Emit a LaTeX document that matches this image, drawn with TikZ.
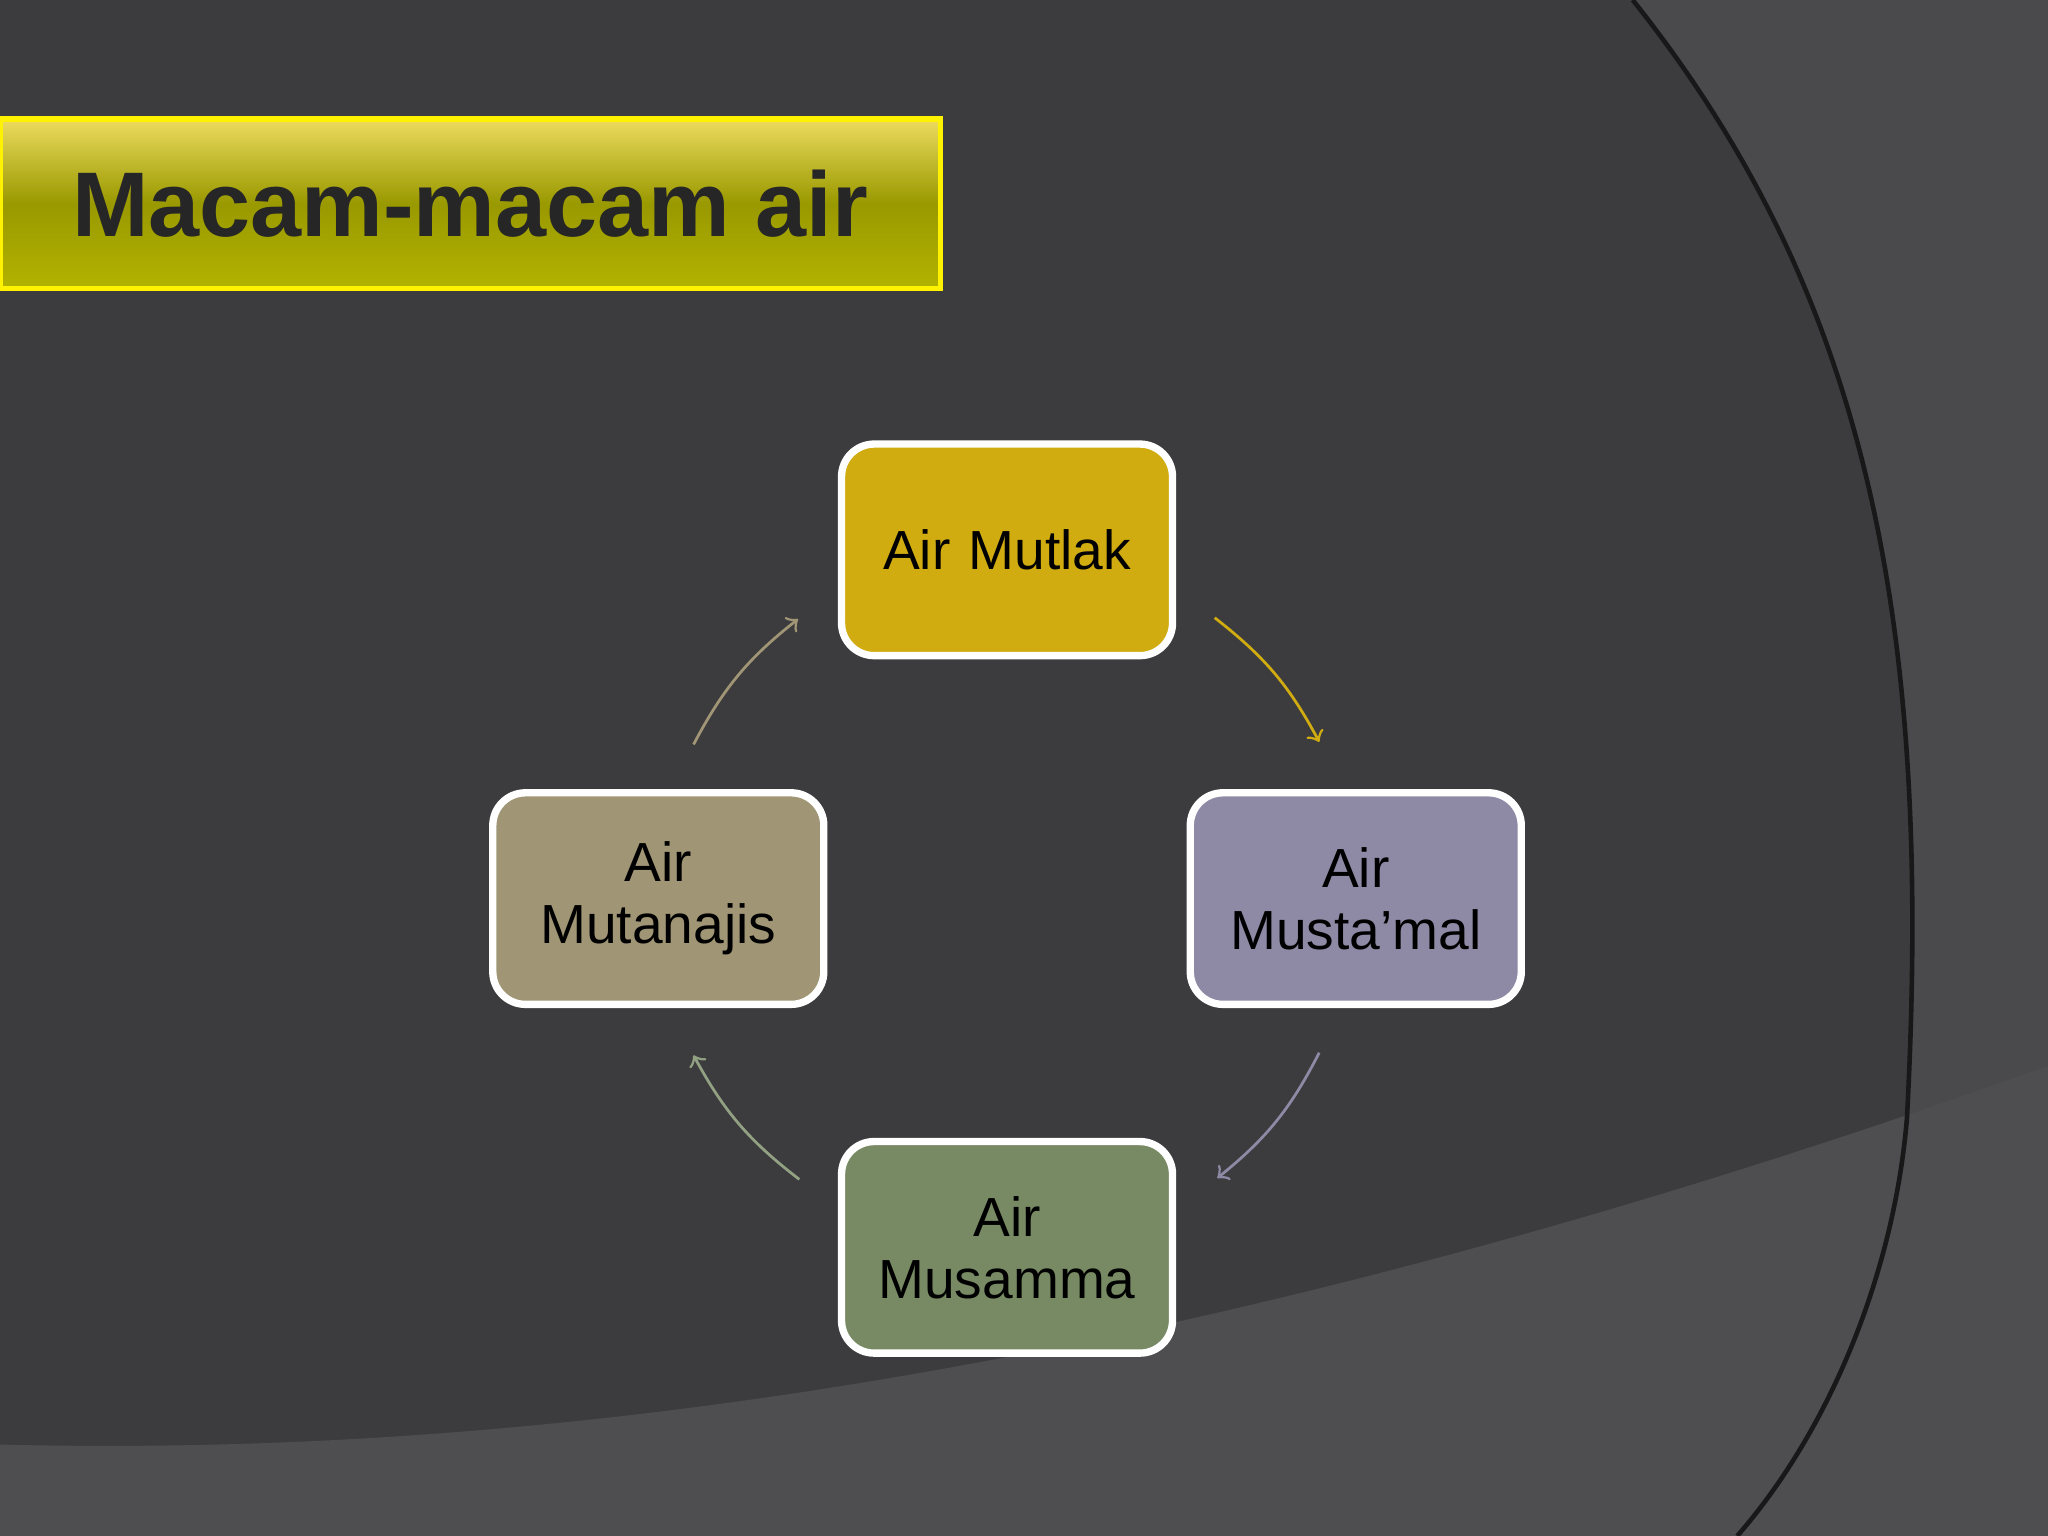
\documentclass[tikz,border=0pt]{standalone}
\usepackage{fontspec}
\setmainfont{Liberation Sans}
\usetikzlibrary{positioning}
\definecolor{bgdark}{HTML}{3C3C3E}
\definecolor{bglight}{HTML}{4E4E51}
\definecolor{mutlak}{HTML}{D1AC10}
\definecolor{mustamal}{HTML}{8E89A4}
\definecolor{musamma}{HTML}{788A64}
\definecolor{mutanajis}{HTML}{A09575}
\tikzset{
  kind/.style={draw=white, line width=1.6pt, rounded corners=0.25cm, minimum width=2.48cm,
    minimum height=1.62cm, align=center, font=\fontsize{12}{13.5}\selectfont, text width=2.3cm},
  cyc/.style={->, line width=0.6pt}
}
\begin{document}
\begin{tikzpicture}
	\useasboundingbox (0,0) rectangle (15.68,11.76);
	\fill[bgdark] (0,0) rectangle (15.68,11.76);
	% lighter shapes of the background
	\fill[bglight!80!bgdark] (12.5,11.76) .. controls (14.3,9.5) and (14.8,7) .. (14.6,3.2) -- (15.68,3.6) -- (15.68,11.76) -- cycle;
	\fill[bglight] (0,0) -- (0,0.7) .. controls (4,0.6) and (9,1.2) .. (15.68,3.6) -- (15.68,0) -- cycle;
	\draw[black!60!bgdark, line width=1pt] (12.5,11.76) .. controls (14.3,9.5) and (14.8,7) .. (14.6,3.2) .. controls (14.5,2) and (14,0.8) .. (13.3,0);
	% title
	\shade[top color=yellow!60!brown!70, bottom color=yellow!70!black, middle color=yellow!60!black] (0,9.55) rectangle (7.2,10.85);
	\draw[yellow, line width=1.2pt] (0,9.55) rectangle (7.2,10.85);
	\node[font=\bfseries\fontsize{20}{24}\selectfont, text=black!85] (title) at (3.6,10.2) {Macam-macam air};
	% boxes
	\node[kind, fill=mutlak] (mutlak) at (7.71,7.55) {Air Mutlak};
	\node[kind, fill=mustamal] (mustamal) at (10.38,4.88) {Air\\Musta’mal};
	\node[kind, fill=musamma] (musamma) at (7.71,2.21) {Air\\Musamma};
	\node[kind, fill=mutanajis] (mutanajis) at (5.04,4.88) {Air\\Mutanajis};
	% cycle arrows
	\draw[cyc, mutlak] (9.30,7.03) to[bend left=12] (10.10,6.08);
	\draw[cyc, mustamal] (10.10,3.70) to[bend left=12] (9.32,2.74);
	\draw[cyc, musamma!80!white] (6.12,2.73) to[bend left=12] (5.31,3.68);
	\draw[cyc, mutanajis] (5.31,6.06) to[bend left=12] (6.11,7.02);
\end{tikzpicture}
\end{document}
